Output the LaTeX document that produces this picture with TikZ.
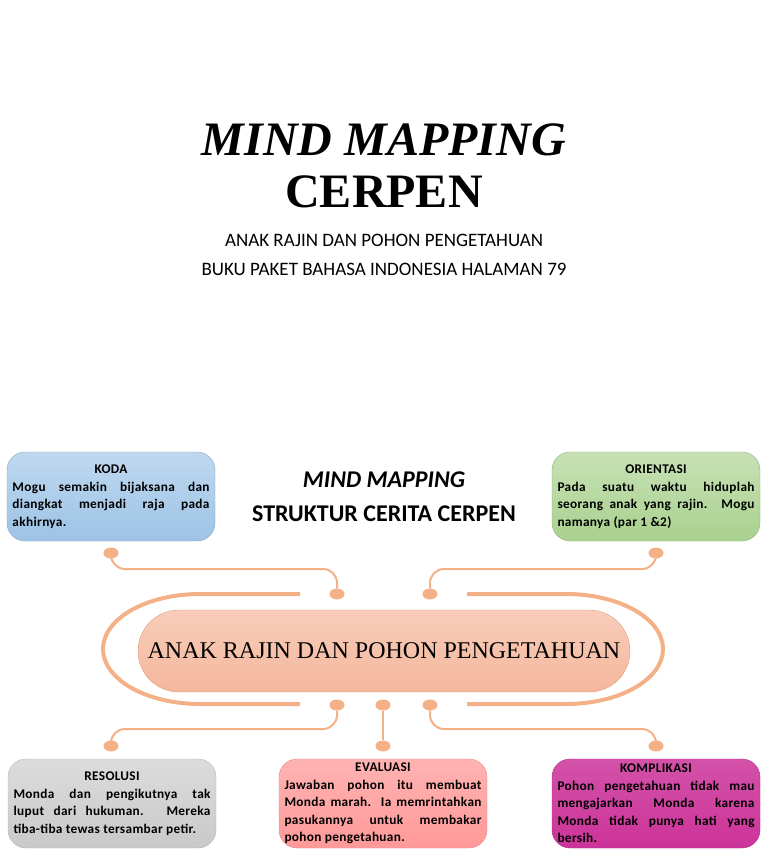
\documentclass[tikz,border=0pt]{standalone}
\usepackage{fontspec}
\setmainfont{Liberation Serif}
\newfontfamily\calibri{Carlito}
\newfontfamily\calibrils[LetterSpace=2.5]{Carlito}
\usetikzlibrary{shapes.geometric,positioning}
\definecolor{salmon}{RGB}{244,177,135}
\definecolor{kodafill}{RGB}{157,195,230}
\definecolor{orifill}{RGB}{169,209,142}
\definecolor{resfill}{RGB}{201,201,201}
\definecolor{evafill}{RGB}{255,153,153}
\definecolor{komfill}{RGB}{204,51,153}
\definecolor{pusatfill}{RGB}{245,183,156}
\newcommand{\judulbox}[1]{\hspace*{\fill}#1\hspace*{\fill}\par}

\begin{document}
\begin{tikzpicture}[x=1pt, y=-1pt,
  box/.style = {rounded corners=18pt, minimum width=208pt, minimum height=89pt, text width=197pt, align=justify, inner sep=0pt, font={\calibrils\bfseries\fontsize{13.3}{17.5}\selectfont}},
  dot/.style = {ellipse, fill=salmon, minimum width=15pt, minimum height=11pt, inner sep=0pt},
  conn/.style = {draw=salmon, line width=2pt, rounded corners=14pt},
  bracket/.style = {draw=salmon, line width=4pt}]
  \useasboundingbox (0,0) rectangle (768,866);

  \node[font=\bfseries\itshape\fontsize{48}{50}\selectfont] (judul) at (384,140) {MIND MAPPING};
  \node[font=\bfseries\fontsize{48}{50}\selectfont] (cerpen) at (384,192) {CERPEN};
  \node[font={\calibri\fontsize{19}{21}\selectfont}] (sub1) at (384,240) {ANAK RAJIN DAN POHON PENGETAHUAN};
  \node[font={\calibri\fontsize{19}{21}\selectfont}] (sub2) at (384,269) {BUKU PAKET BAHASA INDONESIA HALAMAN 79};
  \node[font={\calibri\bfseries\itshape\fontsize{24}{26}\selectfont}] (mm) at (384,480) {MIND MAPPING};
  \node[font={\calibri\bfseries\fontsize{24}{26}\selectfont}] (struktur) at (384,514) {STRUKTUR CERITA CERPEN};

  \node[box, top color=kodafill!65!white, bottom color=kodafill, draw=kodafill!85!black] (koda) at (111,496.5)
    {\judulbox{KODA}Mogu semakin bijaksana dan\linebreak diangkat menjadi raja pada\linebreak akhirnya.\par\vspace{12pt}};
  \node[box, top color=orifill!65!white, bottom color=orifill, draw=orifill!85!black] (orientasi) at (656,496.5)
    {\judulbox{ORIENTASI}Pada suatu waktu hiduplah\linebreak seorang anak yang rajin. Mogu\linebreak namanya (par 1 \&2)};
  \node[box, top color=resfill!65!white, bottom color=resfill, draw=resfill!90!black] (resolusi) at (112,803.5)
    {\judulbox{RESOLUSI}Monda dan pengikutnya tak\linebreak luput dari hukuman. Mereka\linebreak tiba-tiba tewas tersambar petir.};
  \node[box, top color=evafill!75!white, bottom color=evafill, draw=evafill!90!black] (evaluasi) at (383,803.5)
    {\judulbox{EVALUASI}Jawaban pohon itu membuat\linebreak Monda marah. Ia memrintahkan\linebreak pasukannya untuk membakar\linebreak pohon pengetahuan.};
  \node[box, top color=komfill!85!white, bottom color=komfill, draw=komfill!90!black] (komplikasi) at (656,803.5)
    {\judulbox{KOMPLIKASI}Pohon pengetahuan tidak mau\linebreak mengajarkan Monda karena\linebreak Monda tidak punya hati yang\linebreak bersih.};

  \node[draw=salmon!90!black, top color=pusatfill!70!white, bottom color=pusatfill, rounded corners=41pt, minimum width=492pt, minimum height=82pt, font=\fontsize{24}{28}\selectfont] (pusat) at (384,651) {ANAK RAJIN DAN POHON PENGETAHUAN};

  \draw[bracket] (300,594) -- (200,594) arc[start angle=-90, end angle=-270, x radius=97, y radius=55] -- (300,704);
  \draw[bracket] (467,594) -- (566,594) arc[start angle=-90, end angle=90, x radius=97, y radius=55] -- (467,704);

  \coordinate (atas) at (0,569);
  \coordinate (bawah) at (0,729);
  \node[dot] (k1) at (111,553) {};
  \node[dot] (k2) at (337,594) {};
  \node[dot] (o1) at (656,553) {};
  \node[dot] (o2) at (430,594) {};
  \node[dot] (r1) at (337,705) {};
  \node[dot] (r2) at (111,746) {};
  \node[dot] (e1) at (383,705) {};
  \node[dot] (e2) at (383,746) {};
  \node[dot] (p1) at (430,705) {};
  \node[dot] (p2) at (656,746) {};
  \draw[conn] (k1.south) -- (k1 |- atas) -- (k2 |- atas) -- (k2.north);
  \draw[conn] (o1.south) -- (o1 |- atas) -- (o2 |- atas) -- (o2.north);
  \draw[conn] (r1.south) -- (r1 |- bawah) -- (r2 |- bawah) -- (r2.north);
  \draw[conn] (e1.south) -- (e2.north);
  \draw[conn] (p1.south) -- (p1 |- bawah) -- (p2 |- bawah) -- (p2.north);
\end{tikzpicture}
\end{document}
